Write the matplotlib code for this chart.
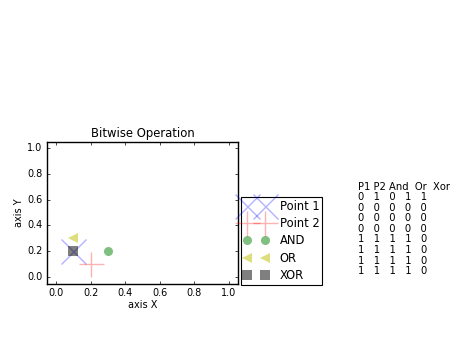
import matplotlib
matplotlib.use("Agg")
import matplotlib.pyplot as plt

plt.style.use('classic')
plt.rcParams['font.family'] = ['DejaVu Sans']

# point data
p1 = (0.1, 0.2)
p2 = (0.2, 0.1)
and_pt = (0.3, 0.2)
or_pt = (0.1, 0.3)
xor_pt = (0.1, 0.2)

# table data
headers = ["P1", "P2", "And", "Or", "Xor"]
col_p1 = [0, 0, 0, 0, 1, 1, 1, 1]
col_p2 = [1, 0, 0, 0, 1, 1, 1, 1]
col_and = [0, 0, 0, 0, 1, 1, 1, 1]
col_or = [1, 0, 0, 0, 1, 1, 1, 1]
col_xor = [1, 0, 0, 0, 0, 0, 0, 0]

fig = plt.figure(figsize=(4.74, 3.55), dpi=100, facecolor='white')
ax = fig.add_axes([47.4/474, 1 - 283.5/355, (237.6 - 47.4)/474, (283.5 - 141.5)/355])
ax.set_facecolor('white')

ax.plot([p1[0]], [p1[1]], 'bx', markersize=18, alpha=0.3, mew=1.0, label='Point 1')
ax.plot([p2[0]], [p2[1]], 'r+', markersize=18, alpha=0.3, mew=1.0, label='Point 2')
ax.plot([and_pt[0]], [and_pt[1]], 'go', markersize=6.5, alpha=0.5, mew=0, label='AND')
ax.plot([or_pt[0]], [or_pt[1]], 'y<', markersize=6.5, alpha=0.5, mew=0, label='OR')
ax.plot([xor_pt[0]], [xor_pt[1]], 'ks', markersize=6.5, alpha=0.5, mew=0, label='XOR')

ax.set_xlim(-0.05, 1.05)
ax.set_ylim(-0.05, 1.05)
ax.set_xticks([0.0, 0.2, 0.4, 0.6, 0.8, 1.0])
ax.set_yticks([0.0, 0.2, 0.4, 0.6, 0.8, 1.0])
ax.tick_params(labelsize=7, direction='in', length=2.5, pad=3.5)
ax.set_title('Bitwise Operation', fontsize=8.4, pad=3)
ax.set_xlabel('axis X', fontsize=7, labelpad=1)
ax.set_ylabel('axis Y', fontsize=7, labelpad=2)

leg = ax.legend(loc='lower left', bbox_to_anchor=(241/474, 1 - 285/355),
                bbox_transform=fig.transFigure, numpoints=2, fontsize=8.3,
                frameon=True, borderaxespad=0, handlelength=2.1,
                labelspacing=0.38, borderpad=0.25, handletextpad=1.0)
leg.get_frame().set_linewidth(0.8)

# table text
x0 = 357.5 / 474
y0 = 1 - 186.5 / 355
dy = 10.6 / 355
fig.text(x0, y0, " ".join(headers[:3]) + "  " + headers[3] + "  " + headers[4],
         fontsize=7.2, va='center', ha='left')
for i in range(len(col_p1)):
    row = [col_p1[i], col_p2[i], col_and[i], col_or[i], col_xor[i]]
    fig.text(x0, y0 - (i + 1) * dy, "   ".join(str(v) for v in row),
             fontsize=7.2, va='center', ha='left')

fig.savefig('out.png', dpi=100, facecolor='white')
